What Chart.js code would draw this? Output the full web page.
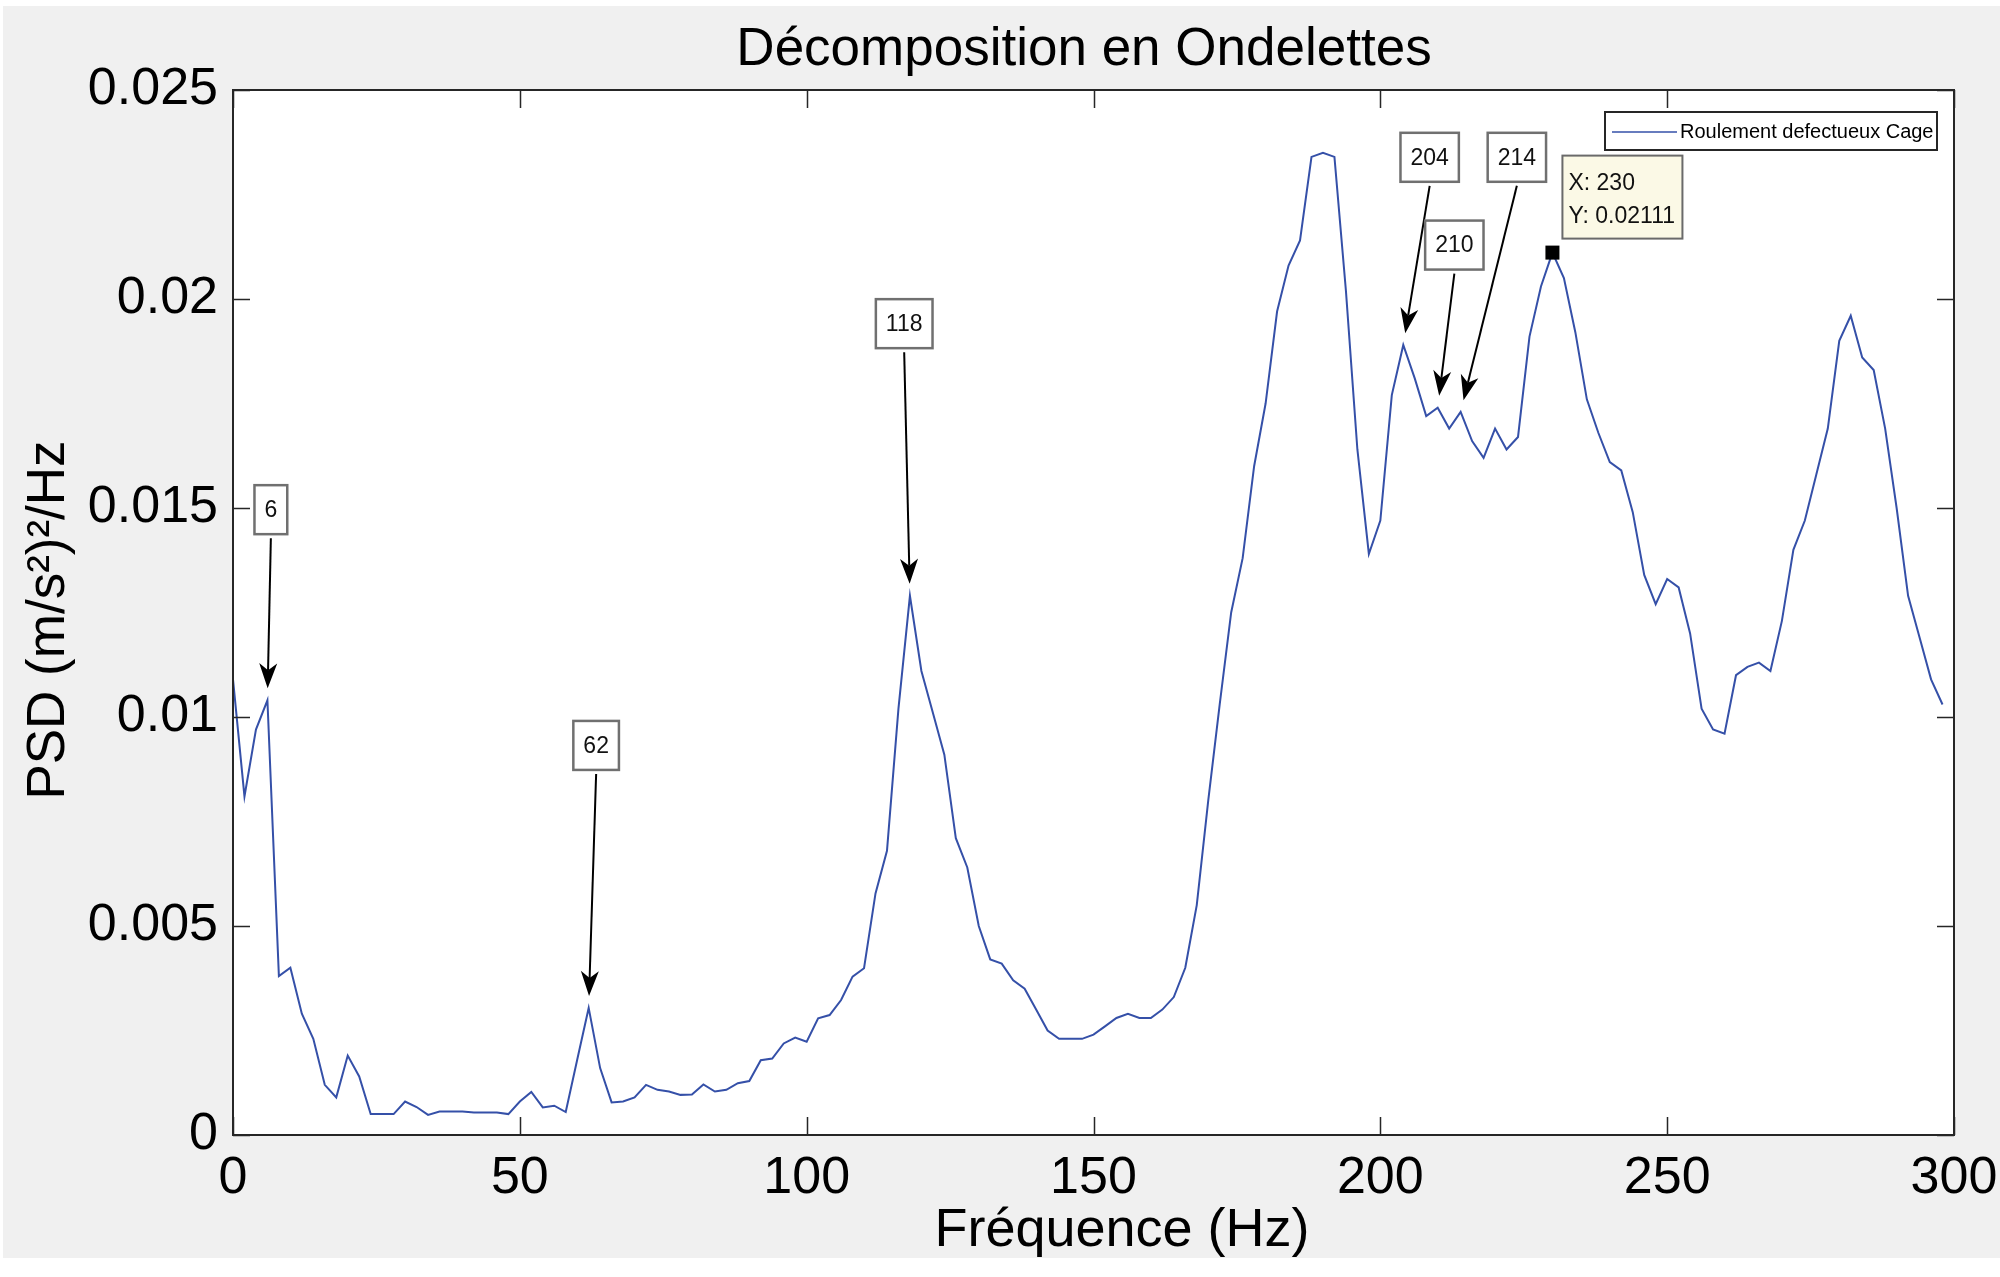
<!DOCTYPE html>
<html>
<head>
<meta charset="utf-8">
<title>Décomposition en Ondelettes</title>
<script src="https://cdn.jsdelivr.net/npm/chart.js@4.4.1/dist/chart.umd.min.js"></script>
<style>
    html, body { margin: 0; padding: 0; background: #fff; }
    canvas { display: block; }
</style>
</head>
<body>
<canvas id="chartPsd" width="2000" height="1277"></canvas>
<script>
// frequences (Hz)
const freqHz = [
    0, 2, 4, 6, 8, 10, 12, 14, 16, 18, 20, 22, 24, 26, 28, 30, 32, 34, 36, 38,
    40, 42, 44, 46, 48, 50, 52, 54, 56, 58, 60, 62, 64, 66, 68, 70, 72, 74, 76, 78,
    80, 82, 84, 86, 88, 90, 92, 94, 96, 98, 100, 102, 104, 106, 108, 110, 112, 114, 116, 118,
    120, 122, 124, 126, 128, 130, 132, 134, 136, 138, 140, 142, 144, 146, 148, 150, 152, 154, 156, 158,
    160, 162, 164, 166, 168, 170, 172, 174, 176, 178, 180, 182, 184, 186, 188, 190, 192, 194, 196, 198,
    200, 202, 204, 206, 208, 210, 212, 214, 216, 218, 220, 222, 224, 226, 228, 230, 232, 234, 236, 238,
    240, 242, 244, 246, 248, 250, 252, 254, 256, 258, 260, 262, 264, 266, 268, 270, 272, 274, 276, 278,
    280, 282, 284, 286, 288, 290, 292, 294, 296, 298
];

// PSD (m/s2)^2/Hz
const psdCage = [
    0.0109, 0.0081, 0.0097, 0.0104, 0.0038, 0.0040, 0.0029, 0.0023, 0.0012, 0.0009,
    0.0019, 0.0014, 0.0005, 0.0005, 0.0005, 0.0008, 0.00067, 0.00048, 0.00056, 0.00056,
    0.00056, 0.00054, 0.00054, 0.00054, 0.0005, 0.0008, 0.00103, 0.00066, 0.0007, 0.00055,
    0.0018, 0.00304, 0.0016, 0.00078, 0.0008, 0.0009, 0.0012, 0.00108, 0.00104, 0.00096,
    0.00097, 0.00121, 0.00104, 0.00108, 0.00124, 0.00129, 0.00179, 0.00183, 0.00219, 0.00233,
    0.00223, 0.00279, 0.00287, 0.00323, 0.00379, 0.00399, 0.00578, 0.0068, 0.0102, 0.0129,
    0.0111, 0.0101, 0.0091, 0.0071, 0.0064, 0.0050, 0.0042, 0.0041, 0.0037, 0.0035,
    0.0030, 0.0025, 0.0023, 0.0023, 0.0023, 0.0024, 0.0026, 0.0028, 0.0029, 0.0028,
    0.0028, 0.0030, 0.0033, 0.0040, 0.0055, 0.0080, 0.0103, 0.0125, 0.0138, 0.0160,
    0.0175, 0.0197, 0.0208, 0.0214, 0.0234, 0.0235, 0.0234, 0.0202, 0.0164, 0.0139,
    0.0147, 0.0177, 0.0189, 0.0181, 0.0172, 0.0174, 0.0169, 0.0173, 0.0166, 0.0162,
    0.0169, 0.0164, 0.0167, 0.0191, 0.0203, 0.02111, 0.0205, 0.0192, 0.0176, 0.0168,
    0.0161, 0.0159, 0.0149, 0.0134, 0.0127, 0.0133, 0.0131, 0.0120, 0.0102, 0.0097,
    0.0096, 0.0110, 0.0112, 0.0113, 0.0111, 0.0123, 0.0140, 0.0147, 0.0158, 0.0169,
    0.0190, 0.0196, 0.0186, 0.0183, 0.0169, 0.0150, 0.0129, 0.0119, 0.0109, 0.0103
];

const xTicks = [0, 50, 100, 150, 200, 250, 300];
const yTicks = [0, 0.005, 0.01, 0.015, 0.02, 0.025];

// fleches annotees
const arrowHz = [6, 62, 118, 204, 210, 214];
const arrowLabels = ['6', '62', '118', '204', '210', '214'];
// centre des boites, en unites du graphe [Hz, PSD]
const arrowBoxAt = [
    [6.6, 0.01496], [63.3, 0.00932], [117.0, 0.01941],
    [208.6, 0.02339], [212.9, 0.02129], [223.8, 0.02339]
];

const dataTipHz = 230;
const dataTipLines = ['X: 230', 'Y: 0.02111'];

const FONT = '"Liberation Sans", Arial, Helvetica, sans-serif';
const LINE_COLOR = '#3550a8';

function fmtTick(v) {
    return String(Number(v.toFixed(3)));
}

function psdAt(hz) {
    return psdCage[freqHz.indexOf(hz)];
}

function drawArrow(ctx, x0, y0, x1, y1) {
    const a = Math.atan2(y1 - y0, x1 - x0);
    const c = Math.cos(a), s = Math.sin(a);
    const len = 25, half = 9, notch = 7;
    ctx.beginPath();
    ctx.moveTo(x0, y0);
    ctx.lineTo(x1 - c * (len - notch), y1 - s * (len - notch));
    ctx.stroke();
    const bx = x1 - c * len, by = y1 - s * len;
    ctx.beginPath();
    ctx.moveTo(x1, y1);
    ctx.lineTo(bx - s * half, by + c * half);
    ctx.lineTo(x1 - c * (len - notch), y1 - s * (len - notch));
    ctx.lineTo(bx + s * half, by - c * half);
    ctx.closePath();
    ctx.fill();
}

const backgroundPlugin = {
    id: 'fondFigure',
    beforeDraw(chart) {
        const { ctx, chartArea: a } = chart;
        ctx.save();
        ctx.fillStyle = '#ffffff';
        ctx.fillRect(0, 0, chart.width, chart.height);
        ctx.fillStyle = '#f0f0f0';
        ctx.fillRect(3, 6, chart.width - 3, 1252);
        ctx.fillStyle = '#ffffff';
        ctx.fillRect(a.left, a.top, a.right - a.left, a.bottom - a.top);
        ctx.restore();
    }
};

const framePlugin = {
    id: 'cadreMatlab',
    afterDraw(chart) {
        const { ctx, chartArea: a, scales } = chart;
        const xs = scales.x, ys = scales.y;
        ctx.save();

        // ticks vers l'interieur
        ctx.strokeStyle = '#262626';
        ctx.lineWidth = 1.5;
        ctx.beginPath();
        xTicks.forEach(v => {
            const px = Math.round(xs.getPixelForValue(v)) + 0.5;
            ctx.moveTo(px, a.bottom); ctx.lineTo(px, a.bottom - 18);
            ctx.moveTo(px, a.top); ctx.lineTo(px, a.top + 18);
        });
        yTicks.forEach(v => {
            const py = Math.round(ys.getPixelForValue(v)) + 0.5;
            ctx.moveTo(a.left, py); ctx.lineTo(a.left + 17, py);
            ctx.moveTo(a.right, py); ctx.lineTo(a.right - 17, py);
        });
        ctx.stroke();

        ctx.lineWidth = 2;
        ctx.strokeRect(a.left, a.top, a.right - a.left, a.bottom - a.top);

        // titres
        ctx.fillStyle = '#000';
        ctx.font = `53px ${FONT}`;
        ctx.textAlign = 'center';
        ctx.textBaseline = 'alphabetic';
        ctx.fillText('Décomposition en Ondelettes', 1084, 65);
        ctx.font = `54px ${FONT}`;
        ctx.fillText('Fréquence (Hz)', 1122, 1246);
        ctx.save();
        ctx.translate(64, 620);
        ctx.rotate(-Math.PI / 2);
        ctx.font = `53px ${FONT}`;
        ctx.fillText('PSD (m/s²)²/Hz', 0, 0);
        ctx.restore();

        // fleches + boites
        ctx.font = `23px ${FONT}`;
        ctx.textBaseline = 'middle';
        arrowHz.forEach((hz, i) => {
            const bx = xs.getPixelForValue(arrowBoxAt[i][0]);
            const by = ys.getPixelForValue(arrowBoxAt[i][1]);
            const w = ctx.measureText(arrowLabels[i]).width + 20;
            const h = 49;
            const px = xs.getPixelForValue(hz);
            const py = ys.getPixelForValue(psdAt(hz));
            const tailX = bx, tailY = by + h / 2 + 4;
            const ang = Math.atan2(py - tailY, px - tailX);
            const gap = 12;
            ctx.strokeStyle = '#000';
            ctx.fillStyle = '#000';
            ctx.lineWidth = 2;
            drawArrow(ctx, tailX, tailY, px - Math.cos(ang) * gap, py - Math.sin(ang) * gap);

            ctx.fillStyle = '#fff';
            ctx.fillRect(bx - w / 2, by - h / 2, w, h);
            ctx.strokeStyle = '#707070';
            ctx.lineWidth = 2.5;
            ctx.strokeRect(bx - w / 2, by - h / 2, w, h);
            ctx.fillStyle = '#111';
            ctx.fillText(arrowLabels[i], bx, by + 1);
        });

        // data tip
        const tx = xs.getPixelForValue(dataTipHz);
        const ty = ys.getPixelForValue(psdAt(dataTipHz));
        ctx.fillStyle = '#000';
        ctx.fillRect(tx - 7, ty - 7, 14, 14);
        ctx.font = `23px ${FONT}`;
        ctx.textAlign = 'left';
        const tipW = 120, tipH = 83;
        const tipL = tx + 10, tipT = ty - 14 - tipH;
        ctx.fillStyle = '#fbf9e6';
        ctx.fillRect(tipL, tipT, tipW, tipH);
        ctx.strokeStyle = '#6a6a6a';
        ctx.lineWidth = 2;
        ctx.strokeRect(tipL, tipT, tipW, tipH);
        ctx.fillStyle = '#111';
        ctx.fillText(dataTipLines[0], tipL + 6, tipT + 28);
        ctx.fillText(dataTipLines[1], tipL + 6, tipT + 61);

        // legende
        const lgL = a.right - 349, lgT = a.top + 22, lgW = 332, lgH = 38;
        ctx.fillStyle = '#fff';
        ctx.fillRect(lgL, lgT, lgW, lgH);
        ctx.strokeStyle = '#262626';
        ctx.lineWidth = 2;
        ctx.strokeRect(lgL, lgT, lgW, lgH);
        ctx.strokeStyle = LINE_COLOR;
        ctx.lineWidth = 1.5;
        ctx.beginPath();
        ctx.moveTo(lgL + 7, lgT + 20);
        ctx.lineTo(lgL + 72, lgT + 20);
        ctx.stroke();
        ctx.fillStyle = '#000';
        ctx.font = `20px ${FONT}`;
        ctx.textBaseline = 'middle';
        ctx.fillText(chart.data.datasets[0].label, lgL + 75, lgT + 20);

        ctx.restore();
    }
};

const tickFont = { family: FONT, size: 52 };

new Chart(document.getElementById('chartPsd'), {
    type: 'line',
    data: {
        datasets: [{
            label: 'Roulement defectueux Cage',
            data: freqHz.map((f, i) => ({ x: f, y: psdCage[i] })),
            borderColor: LINE_COLOR,
            borderWidth: 2,
            pointRadius: 0,
            tension: 0,
            fill: false
        }]
    },
    options: {
        responsive: false,
        animation: false,
        devicePixelRatio: 1,
        layout: { padding: { top: 90, right: 46, left: 0, bottom: 0 } },
        plugins: {
            legend: { display: false },
            title: { display: false },
            tooltip: { enabled: false }
        },
        scales: {
            x: {
                type: 'linear',
                min: 0,
                max: 300,
                afterBuildTicks: s => { s.ticks = xTicks.map(v => ({ value: v })); },
                afterFit: s => { s.height = 142; s.paddingLeft = 0; s.paddingRight = 0; },
                grid: { display: false, drawTicks: false },
                border: { display: false },
                ticks: { padding: 12, font: tickFont, color: '#000', maxRotation: 0, autoSkip: false }
            },
            y: {
                type: 'linear',
                min: 0,
                max: 0.025,
                afterBuildTicks: s => { s.ticks = yTicks.map(v => ({ value: v })); },
                afterFit: s => { s.width = 233; s.paddingTop = 0; s.paddingBottom = 0; },
                grid: { display: false, drawTicks: false },
                border: { display: false },
                ticks: { padding: 15, font: tickFont, color: '#000', autoSkip: false, callback: v => fmtTick(v) }
            }
        }
    },
    plugins: [backgroundPlugin, framePlugin]
});
</script>
</body>
</html>
